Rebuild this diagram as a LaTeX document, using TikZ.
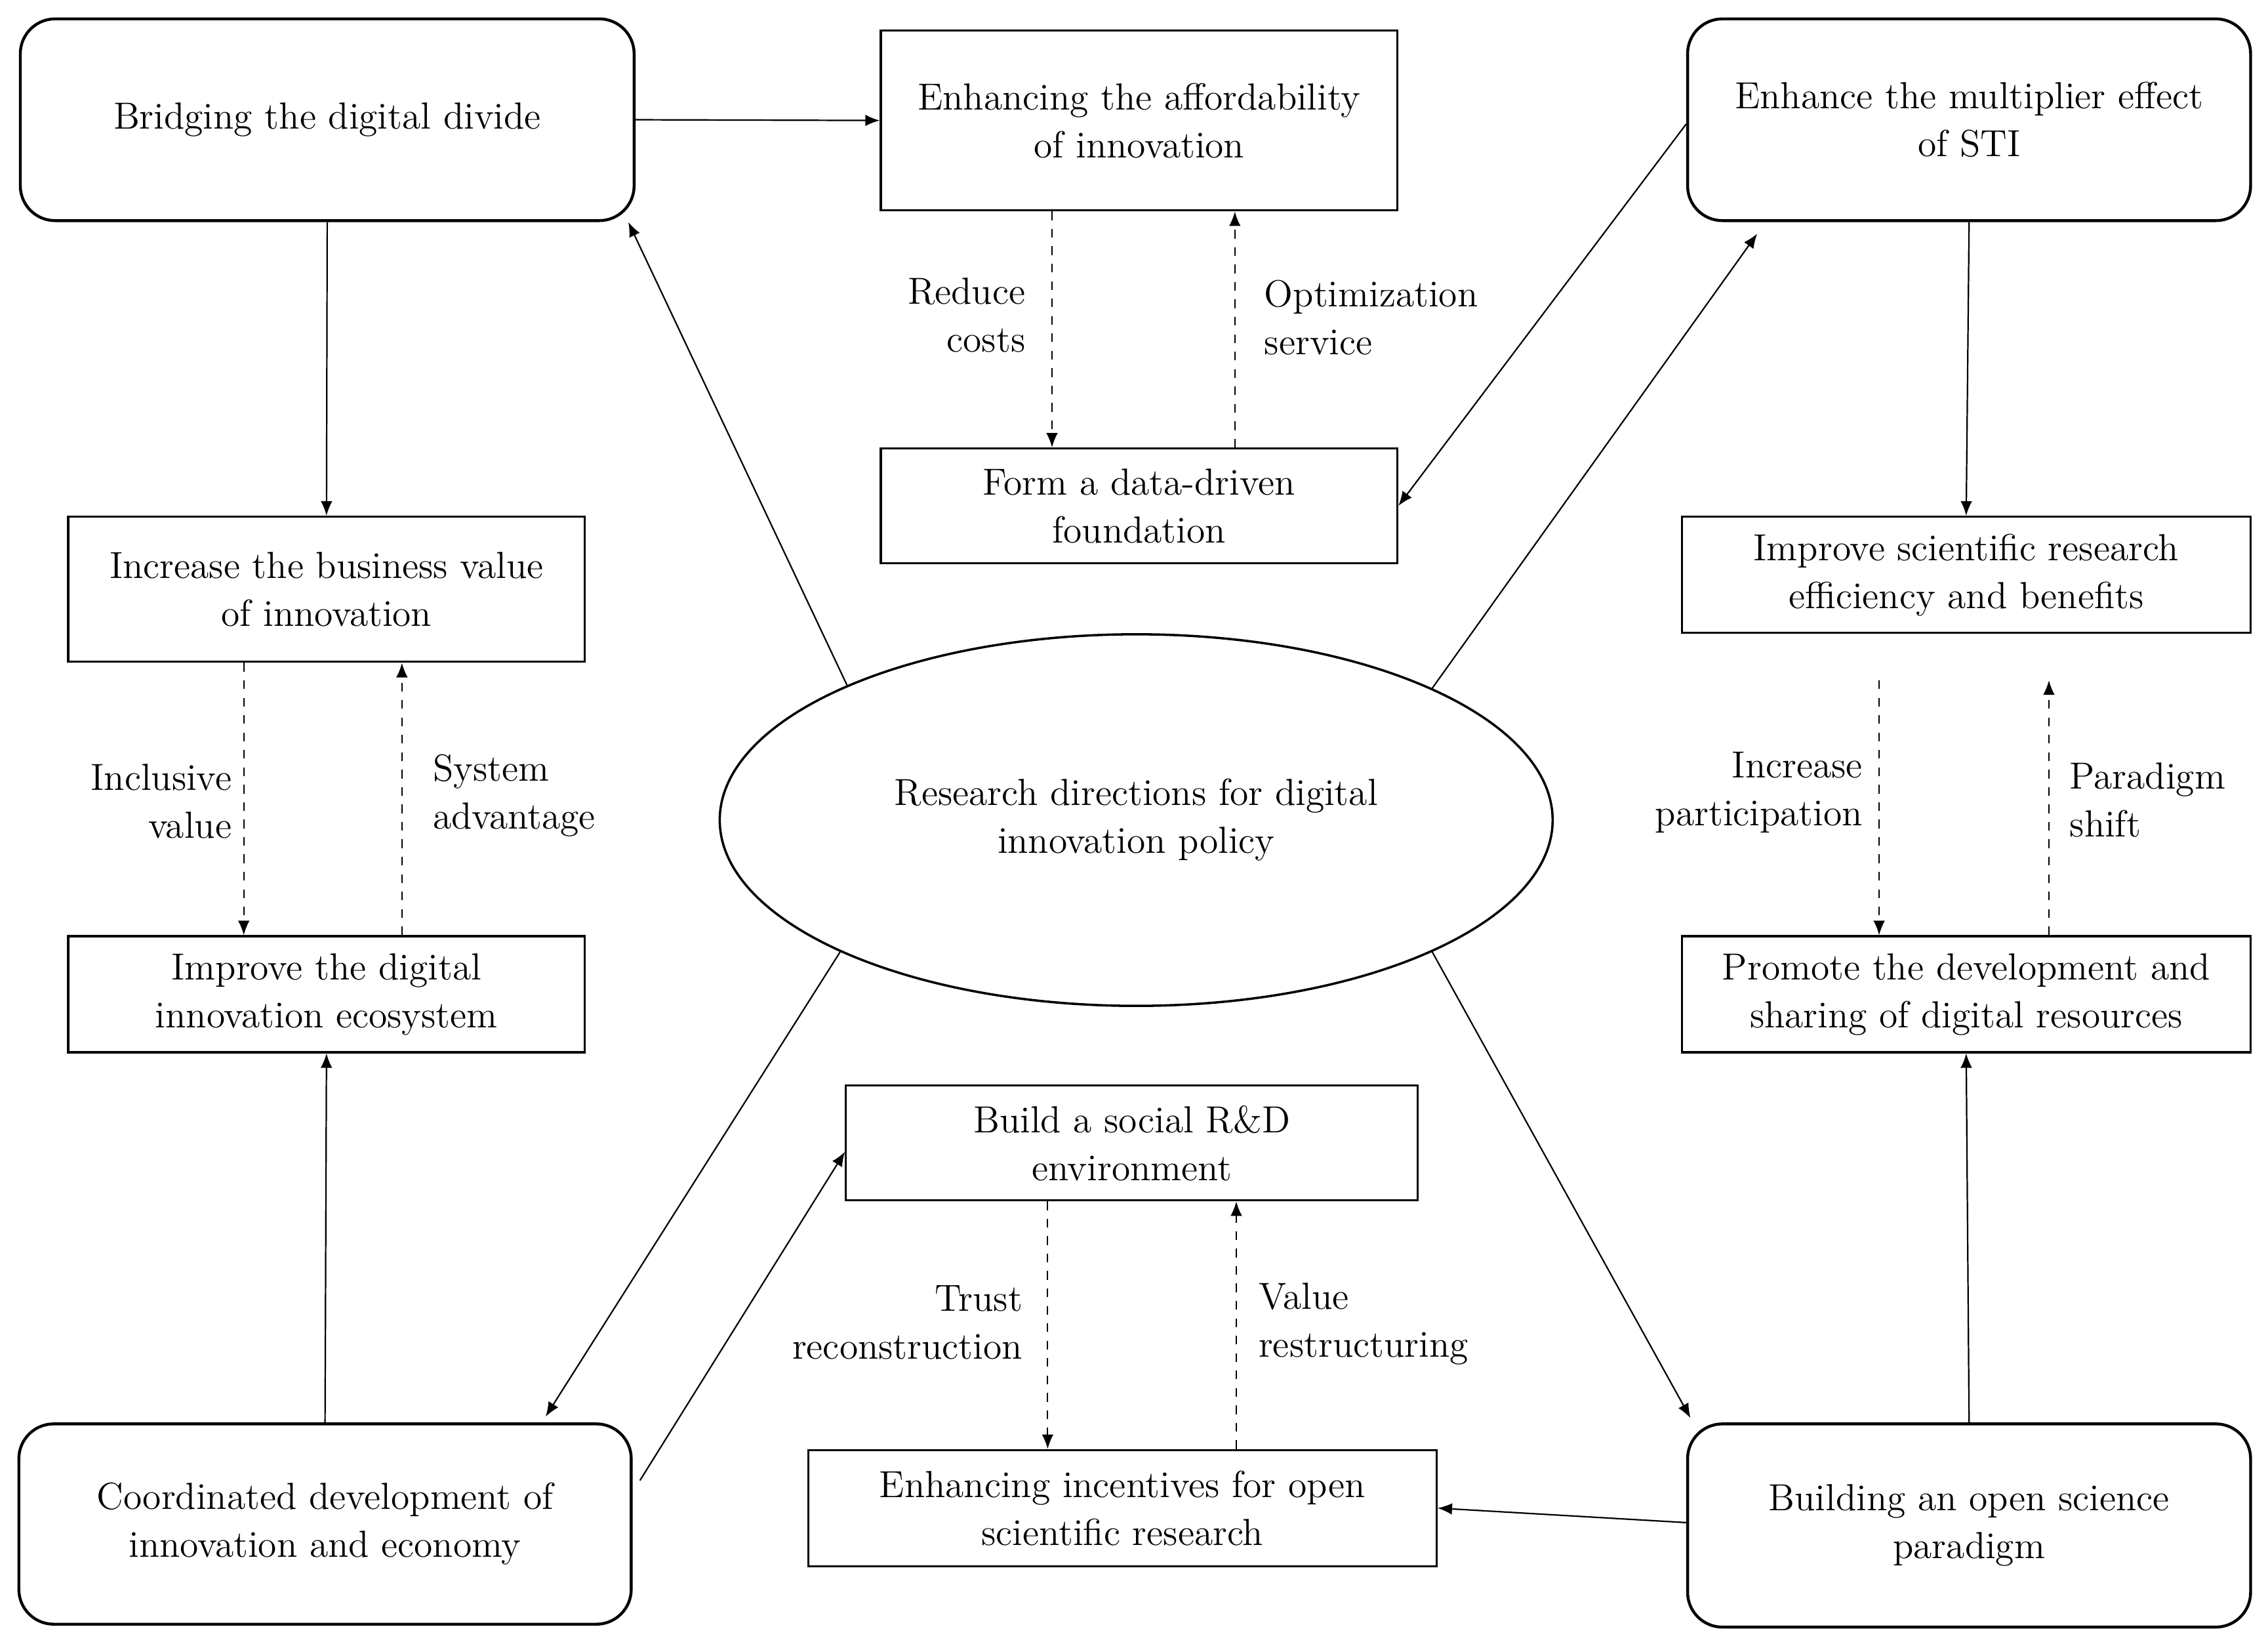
\documentclass[tikz,border=0pt]{standalone}
\usetikzlibrary{calc,shapes.geometric,arrows.meta}
\begin{document}
\begin{tikzpicture}[x=0.5pt,y=-0.5pt,
  font=\fontsize{13}{16.5}\selectfont,
  rbox/.style={draw,line width=1pt,rounded corners=12pt,align=center,inner sep=0pt},
  sbox/.style={draw,line width=0.7pt,align=center,inner sep=0pt},
  arr/.style={line width=0.5pt,-{Latex[length=5pt,width=4pt]}},
  darr/.style={arr,dashed},
  lbl/.style={inner sep=0pt}]
\useasboundingbox (0,0) rectangle (1563,1135);
\node[rbox,minimum width=211.5pt,minimum height=69.5pt] (A) at (225.5,82.5) {Bridging the digital divide};
\node[sbox,minimum width=178pt,minimum height=62pt] (B) at (785,83) {Enhancing the affordability\\of innovation};
\node[rbox,minimum width=194pt,minimum height=69.5pt] (C) at (1357,82.5) {Enhance the multiplier effect\\of STI};
\node[sbox,minimum width=178pt,minimum height=39.5pt] (D) at (785,348.5) {Form a data-driven\\foundation};
\node[sbox,minimum width=178pt,minimum height=50pt] (E) at (225,406) {Increase the business value\\of innovation};
\node[sbox,minimum width=196pt,minimum height=40pt] (F) at (1355,396) {Improve scientific research\\efficiency and benefits};
\node[draw,ellipse,line width=0.8pt,minimum width=287pt,minimum height=128pt,align=center,inner sep=0pt] (G) at (783,565) {Research directions for digital\\innovation policy};
\node[sbox,minimum width=178pt,minimum height=40pt] (H) at (225,685) {Improve the digital\\innovation ecosystem};
\node[sbox,minimum width=196pt,minimum height=40pt] (I) at (1355,685) {Promote the development and\\sharing of digital resources};
\node[sbox,minimum width=197pt,minimum height=39.5pt] (J) at (780,787.5) {Build a social R\&D\\environment};
\node[rbox,minimum width=211pt,minimum height=69pt] (K) at (224,1050) {Coordinated development of\\innovation and economy};
\node[sbox,minimum width=216.5pt,minimum height=40pt] (L) at (773.5,1039) {Enhancing incentives for open\\scientific research};
\node[rbox,minimum width=194pt,minimum height=70pt] (M) at (1357,1051) {Building an open science\\paradigm};

\draw[arr] (A.east) -- (B.west);
\draw[arr] (A.south) -- (E.north);
\draw[darr] ($(E.south)+(-57,0)$) -- ($(H.north)+(-57,0)$);
\draw[darr] ($(H.north)+(52,0)$) -- ($(E.south)+(52,0)$);
\draw[arr] (K.north) -- (H.south);
\draw[darr] ($(B.south)+(-60,0)$) -- ($(D.north)+(-60,0)$);
\draw[darr] ($(D.north)+(66,0)$) -- ($(B.south)+(66,0)$);
\draw[arr] (G.155) -- ($(A.south east)+(-5,0)$);
\draw[arr] ($(C.west)+(0,3)$) -- (D.east);
\draw[arr] (G.24) -- ($(C.south west)+(49,8)$);
\draw[arr] (C.south) -- (F.north);
\draw[darr] ($(F.south)+(-60,32)$) -- ($(I.north)+(-60,0)$);
\draw[darr] ($(I.north)+(57,0)$) -- ($(F.south)+(57,32)$);
\draw[arr] (M.north) -- (I.south);
\draw[arr] (G.204) -- ($(K.north east)+(-60,-4)$);
\draw[arr] ($(K.north east)+(5,40)$) -- ($(J.west)+(0,6)$);
\draw[darr] ($(J.south)+(-58,0)$) -- ($(L.north)+(-51.5,0)$);
\draw[darr] ($(L.north)+(78.5,0)$) -- ($(J.south)+(72,0)$);
\draw[arr] (G.-24) -- ($(M.north west)+(3,-3)$);
\draw[arr] ($(M.west)+(0,-2)$) -- (L.east);

\node[lbl,align=right,anchor=east] (l1) at (707,217) {Reduce\\costs};
\node[lbl,align=left,anchor=west] (l2) at (871,219) {Optimization\\service};
\node[lbl,align=right,anchor=east] (l3) at (160,552) {Inclusive\\value};
\node[lbl,align=left,anchor=west] (l4) at (298,548) {System\\advantage};
\node[lbl,align=right,anchor=east] (l5) at (1284,546) {Increase\\participation};
\node[lbl,align=left,anchor=west] (l6) at (1426,551) {Paradigm\\shift};
\node[lbl,align=right,anchor=east] (l7) at (705,911) {Trust\\reconstruction};
\node[lbl,align=left,anchor=west] (l8) at (867,912) {Value\\restructuring};
\end{tikzpicture}
\end{document}
